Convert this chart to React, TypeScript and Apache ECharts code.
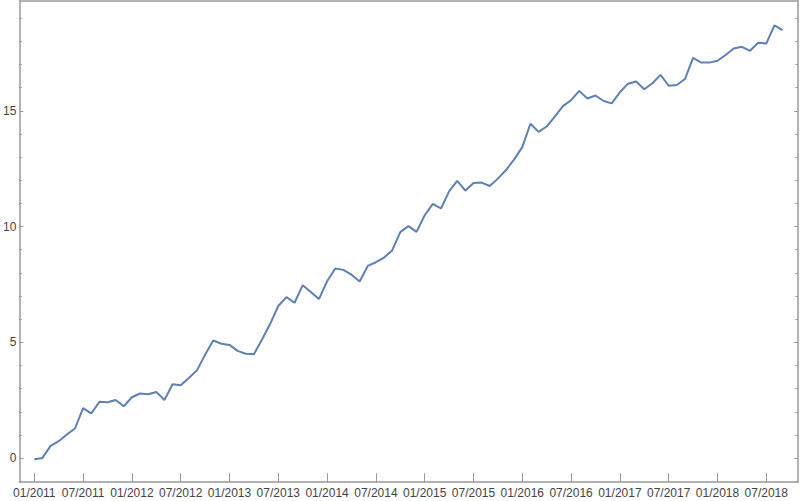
import React, { useEffect, useRef } from "react";
import * as echarts from "echarts";

// Monthly values, 01/2011 .. 09/2018
const values: number[] = [
  -0.05, 0.01, 0.53, 0.73, 1.02, 1.28, 2.16, 1.93, 2.43, 2.41, 2.51, 2.24,
  2.63, 2.79, 2.76, 2.86, 2.51, 3.19, 3.15, 3.46, 3.79, 4.47, 5.08, 4.94,
  4.89, 4.63, 4.51, 4.49, 5.12, 5.8, 6.57, 6.95, 6.71, 7.47, 7.17, 6.87,
  7.64, 8.19, 8.13, 7.92, 7.63, 8.3, 8.46, 8.66, 8.97, 9.76, 10.02, 9.77,
  10.49, 10.98, 10.78, 11.52, 11.97, 11.55, 11.88, 11.9, 11.75, 12.07, 12.44, 12.9,
  13.43, 14.44, 14.09, 14.32, 14.75, 15.2, 15.46, 15.86, 15.53, 15.66, 15.42, 15.32,
  15.8, 16.17, 16.26, 15.93, 16.19, 16.55, 16.08, 16.11, 16.37, 17.28, 17.08, 17.08,
  17.16, 17.41, 17.69, 17.76, 17.59, 17.94, 17.9, 18.69, 18.48,
];
const startYear = 2011;
const xTickMonths: number[] = [0, 6, 12, 18, 24, 30, 36, 42, 48, 54, 60, 66, 72, 78, 84, 90];
const yMajorTicks: number[] = [0, 5, 10, 15];
const yMinorTicks: number[] = [-1, 1, 2, 3, 4, 6, 7, 8, 9, 11, 12, 13, 14, 16, 17, 18, 19];

const X_MIN = -1.84;
const X_MAX = 93.9;
const Y_MIN = -1.03;
const Y_MAX = 19.74;

function monthLabel(m: number): string {
  const idx = Math.round(m);
  const year = startYear + Math.floor(idx / 12);
  const mon = (idx % 12) + 1;
  return (mon < 10 ? "0" + mon : "" + mon) + "/" + year;
}

const FRAME = "#9a9a9a";
const TEXT = "#444444";
const FONT = "Liberation Sans";

export default function App() {
  const ref = useRef<HTMLDivElement>(null);
  useEffect(() => {
    if (!ref.current) return;
    const chart = echarts.init(ref.current, null, { renderer: "svg" });
    const lineStyle = { color: FRAME, width: 1.5 };
    const yBase = (position: "left" | "right") => ({
      type: "value" as const,
      position,
      min: Y_MIN,
      max: Y_MAX,
      splitLine: { show: false },
    });
    chart.setOption({
      animation: false,
      backgroundColor: "#ffffff",
      grid: { left: 16, right: 2, top: 1, bottom: 19, containLabel: false },
      xAxis: [
        {
          type: "value",
          position: "bottom",
          min: X_MIN,
          max: X_MAX,
          splitLine: { show: false },
          axisLine: { show: true, onZero: false, lineStyle },
          axisTick: {
            show: true,
            inside: true,
            length: 9,
            customValues: xTickMonths,
            lineStyle: { color: FRAME, width: 1 },
          },
          axisLabel: {
            show: true,
            customValues: xTickMonths,
            formatter: (v: number) => monthLabel(v),
            color: TEXT,
            fontFamily: FONT,
            fontSize: 12,
            margin: 5,
          },
        },
        {
          type: "value",
          position: "top",
          min: X_MIN,
          max: X_MAX,
          splitLine: { show: false },
          axisLine: { show: true, onZero: false, lineStyle },
          axisTick: { show: false },
          axisLabel: { show: false },
        },
      ],
      yAxis: [
        {
          ...yBase("left"),
          axisLine: { show: true, onZero: false, lineStyle },
          axisTick: {
            show: true,
            inside: true,
            length: 4,
            customValues: yMajorTicks,
            lineStyle: { color: FRAME, width: 1 },
          },
          axisLabel: {
            show: true,
            customValues: yMajorTicks,
            color: TEXT,
            fontFamily: FONT,
            fontSize: 12,
            margin: 3,
          },
        },
        {
          ...yBase("left"),
          axisLine: { show: false, onZero: false },
          axisTick: {
            show: true,
            inside: true,
            length: 2.5,
            customValues: yMinorTicks,
            lineStyle: { color: FRAME, width: 1 },
          },
          axisLabel: { show: false },
        },
        {
          ...yBase("right"),
          axisLine: { show: true, onZero: false, lineStyle },
          axisTick: {
            show: true,
            inside: true,
            length: 4,
            customValues: yMajorTicks,
            lineStyle: { color: FRAME, width: 1 },
          },
          axisLabel: { show: false },
        },
        {
          ...yBase("right"),
          axisLine: { show: false, onZero: false },
          axisTick: {
            show: true,
            inside: true,
            length: 2.5,
            customValues: yMinorTicks,
            lineStyle: { color: FRAME, width: 1 },
          },
          axisLabel: { show: false },
        },
      ],
      series: [
        {
          type: "line",
          xAxisIndex: 0,
          yAxisIndex: 0,
          data: values.map((v, i) => [i, v]),
          showSymbol: false,
          symbol: "none",
          lineStyle: { color: "#5E81B5", width: 2 },
          silent: true,
        },
      ],
    });
    return () => chart.dispose();
  }, []);
  return <div ref={ref} style={{ width: 800, height: 501, position: "absolute", left: 0, top: 0 }} />;
}
